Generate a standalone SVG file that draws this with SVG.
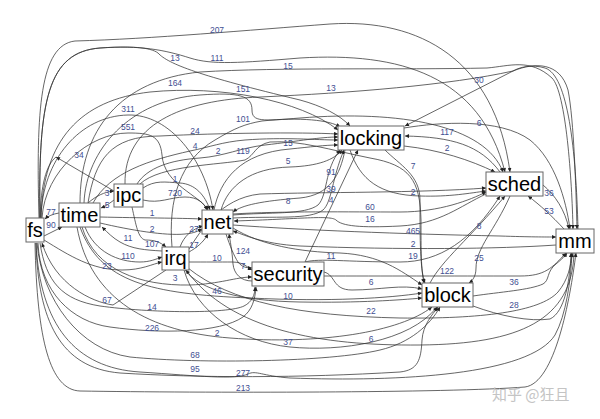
<svg xmlns="http://www.w3.org/2000/svg" width="600" height="419" viewBox="0 0 600 419">
<style>
.e{fill:none;stroke:#333;stroke-width:0.75;marker-end:url(#a)}
.n{fill:none;stroke:#333;stroke-width:0.75}
.l{font-family:"Liberation Sans",Arial,sans-serif;font-size:8.5px;fill:#3f4f92;text-anchor:middle}
.b{fill:#fff;stroke:#666;stroke-width:1}
.t{font-family:"Liberation Sans",Arial,sans-serif;font-size:20px;fill:#000;text-anchor:middle}
</style>
<defs>
<marker id="a" viewBox="0 0 10 10" refX="10" refY="5" markerWidth="5" markerHeight="4" markerUnits="userSpaceOnUse" orient="auto"><path d="M0 0L10 5L0 10z" fill="#222"/></marker>
</defs>
<rect width="600" height="419" fill="#fff"/>
<g id="connectors">
<path class="e" d="M59 213C53 214 48 216 45 219"/>
<path class="e" d="M44 236C50 233 56 230 62 227"/>
<path class="e" d="M114 191L56 157"/>
<path class="n" d="M56 157C46 165 41 185 40 218"/>
<path class="e" d="M88 203C96 196 104 192 114 191"/>
<path class="e" d="M114 200C110 203 106 206 101 208"/>
<path class="e" d="M44 240C70 256 92 270 122 270C142 270 152 264 162 262"/>
<path class="e" d="M166 270L113 305C92 302 55 285 42 243"/>
<path class="e" d="M41 218C42 160 80 116 128 115C170 114 205 160 213 210"/>
<path class="e" d="M42 218C45 170 90 133 128 133C150 133 160 135 162 155C164 185 200 195 208 210"/>
<path class="e" d="M162 251C145 250 132 249 120 242C113 238 108 233 102 227"/>
<path class="e" d="M85 227C95 252 118 262 140 262C150 262 156 259 162 257"/>
<path class="e" d="M100 217C140 218 180 218 202 219"/>
<path class="e" d="M100 223C130 230 165 236 185 234C195 233 198 231 202 229"/>
<path class="e" d="M132 207C136 225 138 238 145 240C155 240 160 242 166 247"/>
<path class="e" d="M40 243C46 282 62 300 100 306C150 313 228 314 244 306C252 302 255 295 255 287"/>
<path class="e" d="M38 243C40 292 72 322 110 327C160 334 220 333 243 317C252 310 255 300 256 287"/>
<path class="e" d="M40 218C38 100 48 52 100 48C130 46 150 47 158 53C168 64 200 76 300 100C322 106 340 115 350 126"/>
<path class="e" d="M40 218C38 100 48 52 100 48C140 45 165 50 190 58C212 65 240 63 300 58C400 52 480 75 505 172"/>
<path class="e" d="M39 218C36 110 40 45 75 41C150 39 250 30 330 24C420 18 495 60 510 172"/>
<path class="e" d="M41 218C43 140 80 100 150 92C220 85 300 100 338 130"/>
<path class="e" d="M143 188C155 180 165 182 180 183C195 184 205 195 210 210"/>
<path class="e" d="M143 200C160 204 170 197 185 197C198 197 204 203 207 210"/>
<path class="e" d="M82 227C95 270 140 286 190 285C220 284 236 277 252 277"/>
<path class="e" d="M88 203C95 160 110 136 160 136C220 133 300 132 338 134"/>
<path class="e" d="M93 203C110 172 150 160 190 151C210 147 222 142 245 140C285 137 315 140 338 140"/>
<path class="e" d="M37 243C42 300 80 350 130 357C200 364 330 362 380 350C410 343 430 325 440 307"/>
<path class="e" d="M36 243C38 320 60 368 120 373C200 378 300 378 400 372C418 370 421 360 422 340C423 325 432 315 438 307"/>
<path class="e" d="M180 247C184 236 192 229 203 226"/>
<path class="e" d="M189 252C196 248 203 243 208 234"/>
<path class="e" d="M137 184C147 168 170 160 200 158C225 156 240 148 265 145C300 141 320 137 338 137"/>
<path class="e" d="M189 262C205 262 220 262 232 262C244 262 248 268 252 270"/>
<path class="e" d="M80 227C100 282 150 294 250 298C330 302 390 298 422 293"/>
<path class="e" d="M77 227C90 300 150 332 230 338C320 345 400 332 432 307"/>
<path class="e" d="M36 243C40 325 75 368 140 372C200 376 235 380 248 374C256 370 262 376 290 378C400 382 530 375 555 335C566 315 571 280 572 253"/>
<path class="e" d="M35 243C37 340 50 390 80 391C200 393 450 393 525 387C555 383 570 300 576 253"/>
<path class="e" d="M84 203C86 150 130 100 200 95C240 92 252 96 252 110C252 122 262 121 300 118C400 110 485 125 503 172"/>
<path class="e" d="M172 247C168 200 180 160 215 140C235 128 245 124 262 121C300 117 330 120 340 127"/>
<path class="e" d="M140 184C160 165 220 165 245 160C255 155 255 145 270 142C300 140 330 150 370 158C410 165 420 180 421 220C421 250 421 270 424 283"/>
<path class="e" d="M226 234C230 246 234 256 238 262C242 267 246 268 252 268"/>
<path class="e" d="M252 281C241 281 234 274 233 264C232 250 230 240 229 234"/>
<path class="e" d="M80 203C80 130 120 80 200 72C280 67 400 70 487 68C510 66 530 58 552 78C566 92 572 180 573 229"/>
<path class="e" d="M214 210C220 180 240 153 290 149C310 147 325 145 338 145"/>
<path class="e" d="M221 210C228 186 250 168 290 167C318 166 334 160 342 150"/>
<path class="e" d="M345 150C340 175 330 195 300 198C262 201 242 205 233 212"/>
<path class="e" d="M185 270C200 290 240 301 300 302C360 303 400 300 422 298"/>
<path class="e" d="M184 270C196 312 240 342 290 347C340 352 410 342 437 307"/>
<path class="e" d="M125 184C124 125 180 100 260 97C350 93 450 85 513 71C535 62 560 62 568 90C574 120 576 190 577 229"/>
<path class="e" d="M233 215C270 212 305 215 318 205C328 195 324 170 340 150"/>
<path class="e" d="M189 249C200 232 220 198 260 194C320 192 420 193 486 188"/>
<path class="e" d="M233 218C275 216 310 220 323 210C332 202 332 178 344 150"/>
<path class="e" d="M233 228C260 245 300 252 340 253C380 255 400 270 422 285"/>
<path class="e" d="M305 262L358 150"/>
<path class="e" d="M233 214C280 211 350 212 400 212C440 212 470 200 486 192"/>
<path class="e" d="M486 194C460 206 440 224 400 226C360 228 342 226 336 220C330 215 300 219 234 221"/>
<path class="e" d="M324 272C336 275 332 290 352 290C380 290 402 284 422 289"/>
<path class="e" d="M188 268C230 302 300 316 400 318C480 319 540 312 558 292C568 280 571 266 572 253"/>
<path class="e" d="M574 253C572 320 520 344 420 345C320 346 230 330 186 270"/>
<path class="e" d="M233 225C300 230 400 234 500 236C530 237 545 237 556 237"/>
<path class="e" d="M556 245C500 249 400 250 300 246C262 244 242 234 233 231"/>
<path class="e" d="M305 262C320 258 345 262 400 262C440 262 472 240 500 196"/>
<path class="e" d="M385 150C400 165 420 175 420 200C420 240 420 270 425 283"/>
<path class="e" d="M350 150C360 180 380 195 420 196C450 197 470 193 486 191"/>
<path class="e" d="M500 172C480 145 452 137 405 136"/>
<path class="e" d="M404 146C440 150 470 160 495 172"/>
<path class="e" d="M324 276C380 276 450 276 520 276C545 276 552 268 566 253"/>
<path class="e" d="M578 229C576 150 568 75 545 68C532 64 520 67 513 71L405 126"/>
<path class="e" d="M404 128C440 122 500 118 530 140C555 160 566 200 570 229"/>
<path class="e" d="M430 283C442 260 470 238 505 196"/>
<path class="e" d="M510 196C495 230 476 248 476 268C476 277 472 281 469 283"/>
<path class="e" d="M473 296C500 292 530 290 543 284C550 280 546 272 556 264C562 259 565 256 567 253"/>
<path class="e" d="M473 306C500 316 530 322 550 319C565 312 570 280 571 253"/>
<path class="e" d="M543 185C555 195 565 210 569 229"/>
<path class="e" d="M564 229C552 216 540 205 528 196"/>
<g>
<text class="l" x="51" y="215">77</text>
<text class="l" x="51" y="228">90</text>
<text class="l" x="79" y="158">34</text>
<text class="l" x="107" y="196">3</text>
<text class="l" x="107" y="208">5</text>
<text class="l" x="107" y="269">23</text>
<text class="l" x="107" y="303">67</text>
<text class="l" x="128" y="112">311</text>
<text class="l" x="128" y="130">551</text>
<text class="l" x="128" y="241">11</text>
<text class="l" x="128" y="259">110</text>
<text class="l" x="152" y="216">1</text>
<text class="l" x="152" y="232">2</text>
<text class="l" x="152" y="247">107</text>
<text class="l" x="152" y="310">14</text>
<text class="l" x="152" y="331">226</text>
<text class="l" x="175" y="61">13</text>
<text class="l" x="175" y="86">164</text>
<text class="l" x="175" y="182">1</text>
<text class="l" x="175" y="196">720</text>
<text class="l" x="175" y="281">3</text>
<text class="l" x="195" y="134">24</text>
<text class="l" x="195" y="149">4</text>
<text class="l" x="194" y="232">27</text>
<text class="l" x="194" y="248">17</text>
<text class="l" x="195" y="358">68</text>
<text class="l" x="195" y="372">95</text>
<text class="l" x="217" y="33">207</text>
<text class="l" x="217" y="61">111</text>
<text class="l" x="218" y="154">2</text>
<text class="l" x="217" y="261">10</text>
<text class="l" x="217" y="294">46</text>
<text class="l" x="217" y="336">2</text>
<text class="l" x="243" y="92">151</text>
<text class="l" x="243" y="122">101</text>
<text class="l" x="243" y="154">119</text>
<text class="l" x="243" y="254">124</text>
<text class="l" x="243" y="269">7</text>
<text class="l" x="243" y="376">277</text>
<text class="l" x="243" y="391">213</text>
<text class="l" x="288" y="69">15</text>
<text class="l" x="288" y="146">15</text>
<text class="l" x="288" y="164">5</text>
<text class="l" x="288" y="204">8</text>
<text class="l" x="288" y="299">10</text>
<text class="l" x="288" y="345">37</text>
<text class="l" x="331" y="91">13</text>
<text class="l" x="331" y="175">91</text>
<text class="l" x="331" y="192">39</text>
<text class="l" x="331" y="203">4</text>
<text class="l" x="331" y="259">11</text>
<text class="l" x="370" y="210">60</text>
<text class="l" x="370" y="222">16</text>
<text class="l" x="371" y="285">6</text>
<text class="l" x="371" y="314">22</text>
<text class="l" x="371" y="342">6</text>
<text class="l" x="413" y="169">7</text>
<text class="l" x="413" y="195">2</text>
<text class="l" x="413" y="234">465</text>
<text class="l" x="413" y="247">2</text>
<text class="l" x="413" y="259">19</text>
<text class="l" x="447" y="135">117</text>
<text class="l" x="447" y="151">2</text>
<text class="l" x="447" y="274">122</text>
<text class="l" x="479" y="83">30</text>
<text class="l" x="479" y="126">6</text>
<text class="l" x="479" y="229">8</text>
<text class="l" x="479" y="261">25</text>
<text class="l" x="514" y="285">36</text>
<text class="l" x="514" y="308">28</text>
<text class="l" x="549" y="196">36</text>
<text class="l" x="549" y="214">53</text>
</g>
</g>
<g id="fs"><rect class="b" x="26" y="218" width="18" height="24"/><text class="t" x="35" y="237">fs</text></g>
<g id="time"><rect class="b" x="59" y="203" width="41" height="24"/><text class="t" x="79.5" y="222">time</text></g>
<g id="ipc"><rect class="b" x="114" y="184" width="29" height="23"/><text class="t" x="128.5" y="202">ipc</text></g>
<g id="net"><rect class="b" x="202" y="210" width="31" height="24"/><text class="t" x="217.5" y="229">net</text></g>
<g id="irq"><rect class="b" x="162" y="247" width="27" height="23"/><text class="t" x="175.5" y="265">irq</text></g>
<g id="security"><rect class="b" x="252" y="262" width="72" height="24"/><text class="t" x="288" y="281">security</text></g>
<g id="locking"><rect class="b" x="338" y="126" width="66" height="24"/><text class="t" x="371" y="145">locking</text></g>
<g id="sched"><rect class="b" x="486" y="172" width="57" height="24"/><text class="t" x="514.5" y="191">sched</text></g>
<g id="mm"><rect class="b" x="556" y="229" width="38" height="24"/><text class="t" x="575" y="248">mm</text></g>
<g id="block"><rect class="b" x="422" y="283" width="51" height="24"/><text class="t" x="447.5" y="302">block</text></g>
<text x="492" y="400" font-family="'Noto Sans CJK SC','Liberation Sans',sans-serif" font-size="15" fill="#c4c4c4">知乎 @狂且</text>
</svg>
